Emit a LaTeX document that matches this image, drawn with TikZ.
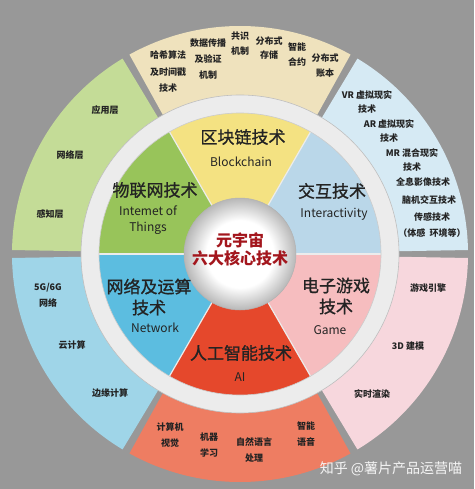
\documentclass[tikz,border=0pt]{standalone}
\usepackage{fontspec}
\setmainfont{Noto Sans CJK SC}
\newfontfamily\medfont{Noto Sans CJK SC}[BoldFont={Noto Sans CJK SC},BoldFeatures={FakeBold=0.9}]
\definecolor{bggray}{HTML}{989898}
\definecolor{ringcol}{HTML}{ECECEC}
\definecolor{txtdark}{HTML}{232323}
\definecolor{coretxt}{HTML}{A3161D}
\definecolor{iaIn}{HTML}{BAD7E9}
\definecolor{iaOut}{HTML}{D6EAF4}
\definecolor{bcIn}{HTML}{F4E282}
\definecolor{bcOut}{HTML}{EFE2BD}
\definecolor{iotIn}{HTML}{98C45A}
\definecolor{iotOut}{HTML}{C4DC97}
\definecolor{netIn}{HTML}{5CBDE0}
\definecolor{netOut}{HTML}{9FD5E8}
\definecolor{aiIn}{HTML}{E5482C}
\definecolor{aiOut}{HTML}{EE7D62}
\definecolor{gmIn}{HTML}{F6BDBF}
\definecolor{gmOut}{HTML}{F7D7DD}
\pgfdeclareradialshading{corebtn}{\pgfpoint{0bp}{0bp}}{color(0bp)=(white); color(15bp)=(white); color(25bp)=(black!28); color(50bp)=(black!28)}
\begin{document}
\begin{tikzpicture}[x=1pt,y=-1pt,
  outerlbl/.style={align=center,text=txtdark,font=\fontsize{9}{15}\selectfont\bfseries},
  innertitle/.style={align=center,text=txtdark,font=\fontsize{17}{21}\selectfont\medfont\bfseries},
  innersub/.style={align=center,text=txtdark,font=\fontsize{12}{16}\selectfont}]
\useasboundingbox (0,0) rectangle (474,489);
\fill[bggray] (0,0) rectangle (474,489);

\begin{scope}[shift={(240,254)}]
  % outer ring segments
  \foreach \a/\ci/\co in {-60/iaIn/iaOut,-120/bcIn/bcOut,-180/iotIn/iotOut,-240/netIn/netOut,-300/aiIn/aiOut,-360/gmIn/gmOut}
    \fill[\co] (\a+1:150) arc[start angle=\a+1,end angle=\a+59,radius=150]
      -- (\a+59:228) arc[start angle=\a+59,end angle=\a+1,radius=228] -- cycle;
  % white ring
  \fill[ringcol] (0,0) circle[radius=159];
  \draw[black!25,line width=0.6pt] (0,0) circle[radius=159];
  % inner wedges
  \foreach \a/\ci/\co in {-60/iaIn/iaOut,-120/bcIn/bcOut,-180/iotIn/iotOut,-240/netIn/netOut,-300/aiIn/aiOut,-360/gmIn/gmOut}
    \fill[\ci] (0,0) -- (\a:141) arc[start angle=\a,end angle=\a+60,radius=141] -- cycle;
  \foreach \a in {0,60,...,300}
    \draw[white!85!gray,line width=1.2pt] (0,0) -- (\a:141);
  \draw[black!20,line width=0.6pt] (0,0) circle[radius=141];
  % core button
  \shade[shading=corebtn] (0,0) circle[radius=56];
  \draw[black!30,line width=0.5pt] (0,0) circle[radius=56];
\end{scope}

% core
\node[align=center,text=coretxt,font=\fontsize{16}{18}\selectfont\bfseries] (core) at (240,249) {元宇宙\\六大核心技术};

% inner sectors
\node[innertitle] (bc) at (243,137) {区块链技术};
\node[innersub] (bcen) at (241,162) {Blockchain};
\node[innertitle] (iot) at (155,190) {物联网技术};
\node[innersub] (ioten) at (148,220) {Intemet of\\Things};
\node[innertitle] (ia) at (332,191) {交互技术};
\node[innersub] (iaen) at (334,214) {Interactivity};
\node[innertitle] (net) at (149,297) {网络及运算\\技术};
\node[innersub] (neten) at (155,328) {Network};
\node[innertitle] (gm) at (336,296) {电子游戏\\技术};
\node[innersub] (gmen) at (330,330) {Game};
\node[innertitle] (ai) at (241,353) {人工智能技术};
\node[innersub] (aien) at (240,377) {AI};

% blockchain ring
\node[outerlbl,font=\fontsize{9}{16.5}\selectfont\bfseries] (hash) at (168,72) {哈希算法\\及时间戳\\技术};
\node[outerlbl,font=\fontsize{9}{16}\selectfont\bfseries] (spread) at (208,59) {数据传播\\及验证\\机制};
\node[outerlbl] (consensus) at (240,44) {共识\\机制};
\node[outerlbl,font=\fontsize{9}{14}\selectfont\bfseries] (storage) at (269,48) {分布式\\存储};
\node[outerlbl] (contract) at (297,55) {智能\\合约};
\node[outerlbl] (ledger) at (325,66) {分布式\\账本};

% interactivity ring
\node[outerlbl,font=\fontsize{9}{14}\selectfont\bfseries] (vr) at (367,102) {VR 虚拟现实\\技术};
\node[outerlbl,font=\fontsize{9}{14}\selectfont\bfseries] (ar) at (389,131) {AR 虚拟现实\\技术};
\node[outerlbl,font=\fontsize{9}{14}\selectfont\bfseries] (mr) at (412,160) {MR 混合现实\\技术};
\node[outerlbl] (holo) at (423,182) {全息影像技术};
\node[outerlbl] (bci) at (429,200) {脑机交互技术};
\node[outerlbl,font=\fontsize{9}{16}\selectfont\bfseries] (sense) at (432,225) {传感技术\\（体感\ \ 环境等）};

% iot ring
\node[outerlbl] (app) at (105,110) {应用层};
\node[outerlbl] (netlayer) at (70,155) {网络层};
\node[outerlbl] (perc) at (50,214) {感知层};

% network ring
\node[outerlbl,font=\fontsize{9}{16}\selectfont\bfseries] (g5) at (48,295) {5G/6G\\网络};
\node[outerlbl] (cloud) at (72,345) {云计算};
\node[outerlbl] (edge) at (110,393) {边缘计算};

% game ring
\node[outerlbl] (engine) at (428,288) {游戏引擎};
\node[outerlbl] (model) at (408,346) {3D 建模};
\node[outerlbl] (render) at (372,394) {实时渲染};

% ai ring
\node[outerlbl,font=\fontsize{9}{16}\selectfont\bfseries] (cv) at (170,435) {计算机\\视觉};
\node[outerlbl,font=\fontsize{9}{16}\selectfont\bfseries] (ml) at (209,445) {机器\\学习};
\node[outerlbl,font=\fontsize{9}{16}\selectfont\bfseries] (nlp) at (254,450) {自然语言\\处理};
\node[outerlbl,font=\fontsize{9}{16}\selectfont\bfseries] (speech) at (306,434) {智能\\语音};

% watermark
\node[text=white!92!gray,font=\fontsize{14}{16}\selectfont] (wm) at (391,469) {知乎 @薯片产品运营喵};
\end{tikzpicture}
\end{document}
